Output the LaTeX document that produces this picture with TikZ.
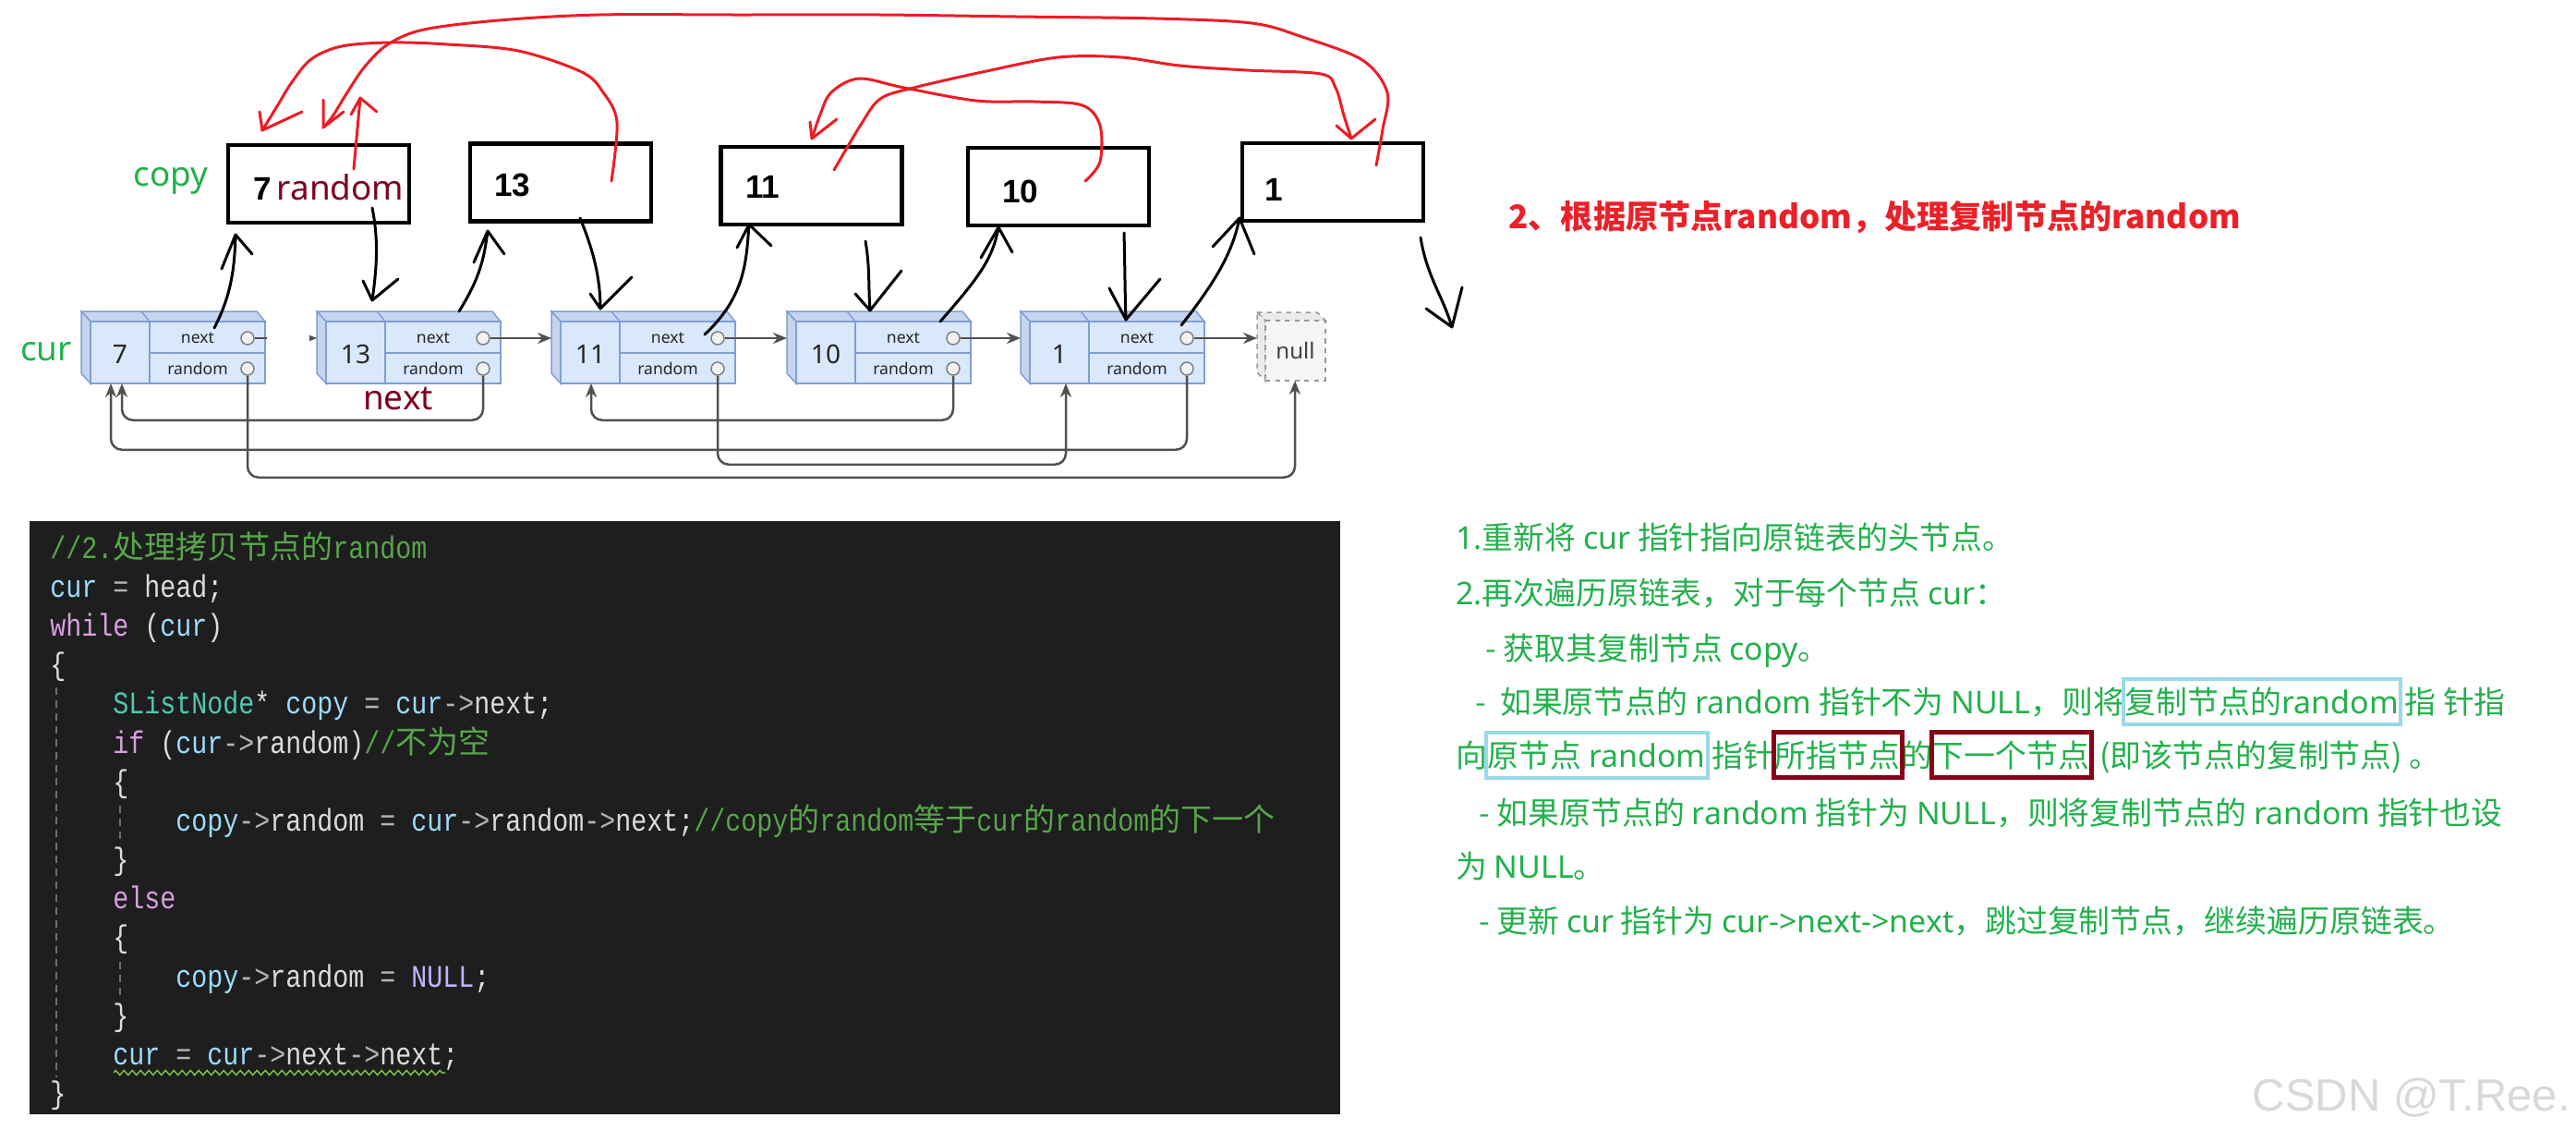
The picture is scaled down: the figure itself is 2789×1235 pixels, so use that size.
\documentclass[tikz,border=0pt]{standalone}
\usepackage{fontspec}
\setmainfont{Noto Sans}
\newfontfamily\cjk{Noto Sans CJK SC}
\newfontfamily\codefont[FakeStretch=0.8333]{Liberation Mono}
\newfontfamily\wmfont{Liberation Sans}
\newfontfamily\numfont{Liberation Sans}
\usetikzlibrary{fit,decorations.pathmorphing,arrows.meta}
\newcommand\lt[1]{{\rmfamily #1}}
\definecolor{nfill}{HTML}{DAE8FC}
\definecolor{nface}{HTML}{C6D5EE}
\definecolor{nborder}{HTML}{7EA0D4}
\definecolor{portfill}{HTML}{F2F2F2}
\definecolor{portdraw}{HTML}{808080}
\definecolor{connc}{HTML}{505050}
\definecolor{handred}{HTML}{EE1C24}
\definecolor{tgreen}{HTML}{22B14C}
\definecolor{dred}{HTML}{7F0020}
\definecolor{tred}{HTML}{EC2028}
\definecolor{bbox}{HTML}{99D9EA}
\definecolor{rbox}{HTML}{880015}
\definecolor{codebg}{HTML}{1E1E1E}
\definecolor{cm}{HTML}{57A64A}
\definecolor{vb}{HTML}{9CDCFE}
\definecolor{kw}{HTML}{D8A0DF}
\definecolor{ty}{HTML}{4EC9B0}
\definecolor{pl}{HTML}{DCDCDC}
\definecolor{op}{HTML}{B4B4B4}
\definecolor{mc}{HTML}{BEB7FF}
\definecolor{guide}{HTML}{707070}
\definecolor{squig}{HTML}{7CBF4A}
\tikzset{
  face/.style={fill=nface, draw=nborder, line width=0.03cm},
  front/.style={fill=nfill, draw=nborder, line width=0.03cm},
  port/.style={circle, fill=portfill, draw=portdraw, line width=0.03cm, minimum size=0.28cm, inner sep=0pt},
  fld/.style={font=\fontsize{10}{12}\selectfont, text=black!85, inner sep=0pt},
  val/.style={font=\fontsize{16}{19}\selectfont, text=black!85, inner sep=0pt},
  conn/.style={draw=connc, line width=0.05cm, -{Stealth[length=0.3cm,width=0.24cm]}, rounded corners=0.24cm},
  hand/.style={draw=black, line width=0.06cm, line cap=round, line join=round},
  redh/.style={draw=handred, line width=0.06cm, line cap=round, line join=round},
  cbox/.style={draw=black, line width=0.09cm, minimum width=3.92cm, minimum height=1.68cm, inner sep=0pt},
  cnum/.style={font=\numfont\bfseries\fontsize{20}{24}\selectfont, text=black, inner sep=0pt, anchor=west},
  lbl/.style={font=\fontsize{21}{25}\selectfont, inner sep=0pt},
  tx/.style={font=\cjk\fontsize{19.3}{23}\selectfont, text=tgreen, inner sep=0pt, anchor=base west},
  bluebx/.style={draw=bbox, line width=0.08cm, inner xsep=0.04cm, inner ysep=0.17cm},
  redbx/.style={draw=rbox, line width=0.1cm, inner xsep=0.03cm, inner ysep=0.17cm},
  cd/.style={font=\codefont\fontsize{19.35}{23}\selectfont, text=pl, inner sep=0pt, anchor=base west},
  guideln/.style={draw=guide, line width=0.03cm, dash pattern=on 0.16cm off 0.12cm},
}
\newcommand\lnode[3]{%
  \begin{scope}[shift={(#2,0)}]
    \path[face] (0,337) -- (190,337) -- (199,348) -- (10,348) -- cycle;
    \path[face] (0,337) -- (10,348) -- (10,415) -- (0,404) -- cycle;
    \draw[nborder, line width=0.03cm] (65,337) -- (74,348);
    \node[front, minimum width=3.78cm, minimum height=1.34cm, inner sep=0pt] (#1) at (104.5,381.5) {};
    \draw[nborder, line width=0.03cm] (74,348) -- (74,415) (74,382) -- (199,382);
    \node[val] (#1v) at (42,383) {#3};
    \node[fld] (#1a) at (126,366) {next};
    \node[fld] (#1b) at (126,399) {random};
    \node[port] (#1n) at (180,366) {};
    \node[port] (#1r) at (180,399) {};
    \coordinate (#1w) at (0,366);
    \coordinate (#1d) at (42,415);
  \end{scope}}
\begin{document}
\begin{tikzpicture}[x=0.02cm,y=-0.02cm]
\useasboundingbox[fill=white] (0,0) rectangle (2789,1235);

% ---------- original list ----------
\lnode{n7}{88}{7}
\lnode{n13}{343}{13}
\lnode{n11}{597}{11}
\lnode{n10}{852}{10}
\lnode{n1}{1105}{1}
\path[fill=black!8, draw=black!40, line width=0.03cm, dashed] (1361,338) -- (1426,338) -- (1435,347) -- (1370,347) -- cycle;
\path[fill=black!8, draw=black!40, line width=0.03cm, dashed] (1361,338) -- (1370,347) -- (1370,412) -- (1361,403) -- cycle;
\node[fill=black!4, draw=black!40, line width=0.03cm, dashed, minimum width=1.3cm, minimum height=1.3cm, inner sep=0pt, font=\fontsize{13.7}{16}\selectfont, text=black!75] (nul) at (1402.5,379.5) {null};
\coordinate (nullw) at (1361,366);
\coordinate (nulld) at (1402,412);
\coordinate (n7da) at (120,415);
\coordinate (n7db) at (132,415);
\coordinate (n11d) at (640,415);
\coordinate (n1d) at (1154,415);

% next pointers
\draw[conn] (n7n.east) -- (n13w);
\fill[white] (289,354) rectangle (335,378);
\draw[conn] (n13n.east) -- (n11w);
\draw[conn] (n11n.east) -- (n10w);
\draw[conn] (n10n.east) -- (n1w);
\draw[conn] (n1n.east) -- (nullw);
% random pointers
\draw[conn] (n13r.south) -- ++(0,48) -| (n7db);
\draw[conn] (n10r.south) -- ++(0,48) -| (n11d);
\draw[conn] (n1r.south) -- ++(0,80) -| (n7da);
\draw[conn] (n11r.south) -- ++(0,96) -| (n1d);
\draw[conn] (n7r.south) -- ++(0,110) -| (nulld);

\node[lbl, text=tgreen] (curlbl) at (50,381) {cur};
\node[lbl, text=dred] (nextlbl) at (431,432) {next};

% ---------- copy boxes ----------
\node[cbox] (c7) at (345,199) {};
\node[cbox] (c13) at (607,197.5) {};
\node[cbox] (c11) at (878.5,201) {};
\node[cbox] (c10) at (1146,202) {};
\node[cbox] (c1) at (1443,197) {};
\node[lbl, text=tgreen] (copylbl) at (185,196) {copy};
\node[cnum] (t7) at (274,203) {7\hspace{0.12cm}\rmfamily\mdseries\fontsize{21}{25}\selectfont\textcolor{dred}{random}};
\node[cnum] (t13) at (535,200) {13};
\node[cnum] (t11) at (807,202) {11};
\node[cnum] (t10) at (1085,207) {10};
\node[cnum] (t1) at (1369,205) {1};

% ---------- hand-drawn black arrows ----------
\coordinate (h1s) at (232,355); \coordinate (h1t) at (255,254);
\draw[hand] (h1s) .. controls (250,320) and (254,292) .. (h1t) (240,291) -- (h1t) -- (273,275);
\coordinate (h2s) at (403,225); \coordinate (h2t) at (403,325);
\draw[hand] (h2s) .. controls (410,260) and (408,290) .. (h2t) (393,304) -- (h2t) -- (431,302);
\coordinate (h3s) at (497,337); \coordinate (h3t) at (528,250);
\draw[hand] (h3s) .. controls (520,300) and (524,280) .. (h3t) (513,284) -- (h3t) -- (546,275);
\coordinate (h4s) at (628,236); \coordinate (h4t) at (650,334);
\draw[hand] (h4s) .. controls (642,270) and (650,300) .. (h4t) (639,318) -- (h4t) -- (684,300);
\coordinate (h5s) at (763,362); \coordinate (h5t) at (811,243);
\draw[hand] (h5s) .. controls (808,320) and (808,280) .. (h5t) (798,268) -- (h5t) -- (835,266);
\coordinate (h6s) at (937,261); \coordinate (h6t) at (942,336);
\draw[hand] (h6s) .. controls (942,290) and (940,310) .. (h6t) (926,318) -- (h6t) -- (976,293);
\coordinate (h7s) at (1018,348); \coordinate (h7t) at (1081,246);
\draw[hand] (h7s) .. controls (1060,300) and (1075,280) .. (h7t) (1062,279) -- (h7t) -- (1096,273);
\coordinate (h8s) at (1217,252); \coordinate (h8t) at (1219,346);
\draw[hand] (h8s) .. controls (1218,290) and (1218,320) .. (h8t) (1201,312) -- (h8t) -- (1256,302);
\coordinate (h9s) at (1279,352); \coordinate (h9t) at (1342,236);
\draw[hand] (h9s) .. controls (1320,300) and (1335,270) .. (h9t) (1313,267) -- (h9t) -- (1358,275);
\coordinate (h10s) at (1538,257); \coordinate (h10t) at (1572,354);
\draw[hand] (h10s) .. controls (1545,300) and (1562,320) .. (h10t) (1544,334) -- (h10t) -- (1583,311);

% ---------- hand-drawn red arrows ----------
\draw[redh] plot[smooth, tension=0.55] coordinates {(662,196) (668,132) (653,100) (630,78) (561,55) (485,48) (423,46) (370,50) (337,64) (316,89) (300,115) (284,141)};
\draw[redh] (281,121) -- (284,141) -- (327,121);
\draw[redh] plot[smooth, tension=0.55] coordinates {(1490,179) (1497,140) (1502,100) (1475,65) (1410,40) (1355,25) (1251,20) (1100,18) (953,16) (800,16) (648,16) (540,22) (459,32) (420,48) (395,72) (376,100) (360,126) (350,138)};
\draw[redh] (350,108) -- (350,138) -- (372,121);
\draw[redh] (383,183) -- (390,106) (380,124) -- (390,106) -- (408,121);
\draw[redh] plot[smooth, tension=0.55] coordinates {(903,184) (932,135) (953,107) (989,95) (1068,77) (1146,62) (1214,62) (1277,71) (1350,76) (1430,80) (1446,95) (1455,125) (1463,150)};
\draw[redh] (1447,136) -- (1463,150) -- (1489,129);
\draw[redh] plot[smooth, tension=0.55] coordinates {(1175,196) (1191,175) (1191,136) (1172,114) (1120,110) (1057,109) (979,95) (930,85) (900,100) (888,124) (879,150)};
\draw[redh] (877,132) -- (879,150) -- (906,129);

% ---------- title ----------
\node[anchor=west, text=tred, font=\cjk\bfseries\fontsize{20}{24}\selectfont, inner sep=0pt] (title) at (1633,235) {2、根据原节点random，处理复制节点的random};

% ---------- code panel ----------
\node[fill=codebg, minimum width=28.38cm, minimum height=12.84cm, inner sep=0pt, anchor=north west] (panel) at (32,564) {};
\draw[guideln] (61,744) -- (61,1166);
\draw[guideln] (130,872) -- (130,910);
\draw[guideln] (130,1041) -- (130,1080);
\node[cd] (k0) at (54,604) {\textcolor{cm}{//2.{\cjk 处理拷贝节点的}random}};
\node[cd] (k1) at (54,646) {\textcolor{vb}{cur} \textcolor{op}{=} \textcolor{pl}{head;}};
\node[cd] (k2) at (54,688) {\textcolor{kw}{while} (\textcolor{vb}{cur})};
\node[cd] (k3) at (54,730) {\{};
\node[cd] (k4) at (122,772) {\textcolor{ty}{SListNode}* \textcolor{vb}{copy} \textcolor{op}{=} \textcolor{vb}{cur}\textcolor{op}{->}next;};
\node[cd] (k5) at (122,815) {\textcolor{kw}{if} (\textcolor{vb}{cur}\textcolor{op}{->}random)\textcolor{cm}{//{\cjk 不为空}}};
\node[cd] (k6) at (122,857) {\{};
\node[cd] (k7) at (190,899) {\textcolor{vb}{copy}\textcolor{op}{->}random \textcolor{op}{=} \textcolor{vb}{cur}\textcolor{op}{->}random\textcolor{op}{->}next;\textcolor{cm}{//copy{\cjk 的}random{\cjk 等于}cur{\cjk 的}random{\cjk 的下一个}}};
\node[cd] (k8) at (122,941) {\}};
\node[cd] (k9) at (122,983) {\textcolor{kw}{else}};
\node[cd] (k10) at (122,1025) {\{};
\node[cd] (k11) at (190,1068) {\textcolor{vb}{copy}\textcolor{op}{->}random \textcolor{op}{=} \textcolor{mc}{NULL};};
\node[cd] (k12) at (122,1110) {\}};
\node[cd] (k13) at (122,1152) {\textcolor{vb}{cur} \textcolor{op}{=} \textcolor{vb}{cur}\textcolor{op}{->}next\textcolor{op}{->}next;};
\node[cd] (k14) at (54,1194) {\}};
\draw[squig, line width=0.03cm, decorate, decoration={zigzag, segment length=0.18cm, amplitude=0.05cm}] (123,1161) -- (482,1161);

% ---------- explanation text ----------
\node[tx] (e1) at (1576,594) {\lt{1.}重新将 \lt{cur} 指针指向原链表的头节点。};
\node[tx] (e2) at (1576,654) {\lt{2.}再次遍历原链表，对于每个节点 \lt{cur}：};
\node[tx] (e3) at (1608,714) {- 获取其复制节点 \lt{copy}。};
\node[tx] (e4a) at (1597,772) {-\hspace{0.3cm}如果原节点的 \lt{random} 指针不为 \lt{NULL}，则将};
\node[tx] (e4b) at (e4a.base east) {复制节点的\lt{random}};
\node[tx] (e4c) at (e4b.base east) {\hspace{0.12cm}指 针指};
\node[tx] (e5a) at (1576,830) {向};
\node[tx] (e5b) at (e5a.base east) {原节点 \lt{random}};
\node[tx] (e5c) at (e5b.base east) {\hspace{0.12cm}指针};
\node[tx] (e5d) at (e5c.base east) {所指节点};
\node[tx] (e5e) at (e5d.base east) {的};
\node[tx] (e5f) at (e5e.base east) {下一个节点};
\node[tx] (e5g) at (e5f.base east) {\hspace{0.2cm}(即该节点的复制节点) 。};
\node[bluebx, fit=(e4b)] (b1) {};
\node[bluebx, fit=(e5b)] (b2) {};
\node[redbx, fit=(e5d)] (r1) {};
\node[redbx, fit=(e5f)] (r2) {};
\node[tx] (e6) at (1601,892) {- 如果原节点的 \lt{random} 指针为 \lt{NULL}，则将复制节点的 \lt{random} 指针也设};
\node[tx] (e7) at (1576,950) {为 \lt{NULL}。};
\node[tx] (e8) at (1601,1009) {- 更新 \lt{cur} 指针为 \lt{cur->next->next}，跳过复制节点，继续遍历原链表。};

% ---------- watermark ----------
\node[font=\wmfont\fontsize{27.9}{32}\selectfont, text=black!15, inner sep=0pt, anchor=east] (wm) at (2783,1188) {CSDN @T.Ree.};
\end{tikzpicture}
\end{document}
